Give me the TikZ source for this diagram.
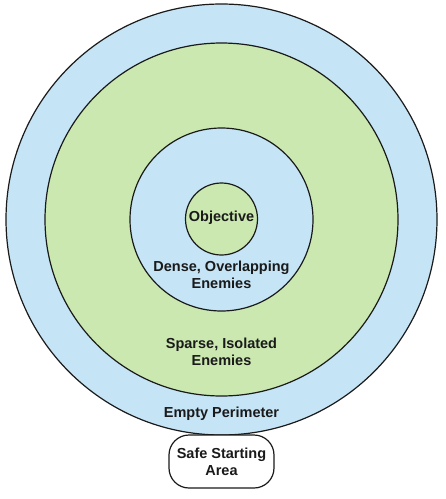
\documentclass[tikz,border=0pt]{standalone}
\usepackage{fontspec}
\setmainfont{Liberation Sans}
\definecolor{zoneblue}{HTML}{C5E4F6}
\definecolor{zonegreen}{HTML}{CAE8B0}
\definecolor{inkc}{HTML}{1A1A1A}
\begin{document}
\begin{tikzpicture}[x=1pt,y=-1pt,
  zone/.style={circle,draw=inkc,line width=1.2pt,inner sep=0pt},
  lbl/.style={font=\fontsize{14.5}{17}\selectfont\bfseries,text=inkc,align=center,inner sep=0pt},
  safebox/.style={draw=inkc,line width=1.2pt,rounded corners=20pt,fill=white,minimum width=105pt,minimum height=53pt,inner sep=0pt}]
\useasboundingbox (0,0) rectangle (446,499);
\node[zone,fill=zoneblue,minimum size=431pt] (outer) at (221.5,219.5) {};
\node[zone,fill=zonegreen,minimum size=353pt] (green) at (221.5,219.5) {};
\node[zone,fill=zoneblue,minimum size=183pt] (inner) at (221.5,219.5) {};
\node[zone,fill=zonegreen,minimum size=72pt] (obj) at (221.5,219) {};
\node[lbl] (objt) at (221.5,218) {Objective};
\node[lbl] (dense) at (221.5,274.5) {Dense, Overlapping\\Enemies};
\node[lbl] (sparse) at (221.5,352) {Sparse, Isolated\\Enemies};
\node[lbl] (empty) at (221.5,414) {Empty Perimeter};
\node[safebox,align=center,font=\fontsize{14.5}{17}\selectfont\bfseries,text=inkc] (safe) at (221.5,461.5) {Safe Starting\\Area};
\end{tikzpicture}
\end{document}
